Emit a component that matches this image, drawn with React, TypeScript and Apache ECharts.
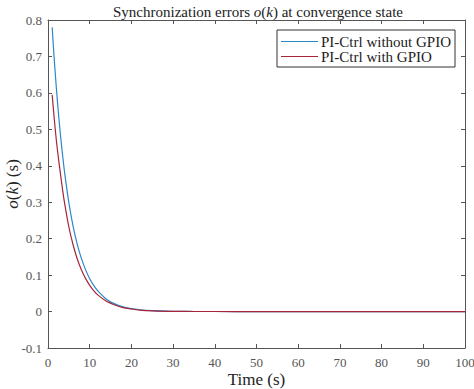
import React, { useEffect, useRef } from "react";
import * as echarts from "echarts";

const times = [1, 1.5, 2, 2.5, 3, 3.5, 4, 5, 6, 7, 8, 9, 10, 11, 12, 14, 16, 18, 20, 22, 25, 30, 35, 40, 50, 60, 70, 80, 90, 100];
const withoutGpio = [0.78, 0.692, 0.614, 0.545, 0.483, 0.429, 0.38, 0.299, 0.235, 0.185, 0.146, 0.115, 0.09, 0.071, 0.056, 0.034, 0.021, 0.013, 0.008, 0.005, 0.0025, 0.0007, 0.0002, 0.0001, 0, 0, 0, 0, 0, 0];
const withGpio = [0.595, 0.529, 0.47, 0.421, 0.377, 0.334, 0.296, 0.232, 0.184, 0.145, 0.115, 0.091, 0.072, 0.057, 0.045, 0.028, 0.018, 0.011, 0.007, 0.004, 0.002, 0.0006, 0.0002, 0.0001, 0, 0, 0, 0, 0, 0];
const seriesNames = ["PI-Ctrl without GPIO", "PI-Ctrl with GPIO"];
const seriesColors = ["#2a88c8", "#a8243a"];

const FONT = "Liberation Serif";
const AXIS_COLOR = "#555555";

export default function App() {
  const ref = useRef<HTMLDivElement>(null);
  useEffect(() => {
    if (!ref.current) return;
    const chart = echarts.init(ref.current, null, { renderer: "svg" });
    const pairs = (vals: number[]) => times.map((t, i) => [t, vals[i]]);
    const xCommon = {
      type: "value" as const,
      min: 0,
      max: 100,
      interval: 10,
      nameMoveOverlap: false,
      axisLine: { show: true, onZero: false, lineStyle: { color: AXIS_COLOR, width: 1 } },
      axisTick: { show: true, inside: true, length: 4, lineStyle: { color: AXIS_COLOR } },
      splitLine: { show: false },
    };
    const yCommon = {
      type: "value" as const,
      min: -0.1,
      max: 0.8,
      interval: 0.1,
      nameMoveOverlap: false,
      axisLine: { show: true, onZero: false, lineStyle: { color: AXIS_COLOR, width: 1 } },
      axisTick: { show: true, inside: true, length: 4, lineStyle: { color: AXIS_COLOR } },
      splitLine: { show: false },
    };
    chart.setOption({
      animation: false,
      backgroundColor: "#ffffff",
      title: {
        text: "Synchronization errors {i|o}({i|k}) at convergence state",
        left: 108,
        top: -1,
        textStyle: {
          fontFamily: FONT,
          fontSize: 15,
          fontWeight: "normal",
          color: "#222",
          rich: { i: { fontFamily: FONT, fontSize: 15, fontStyle: "italic", color: "#222" } },
        },
      },
      grid: { left: 48, right: 9, top: 20, bottom: 41, containLabel: false, outerBoundsMode: "none" },
      legend: {
        orient: "vertical",
        right: 19,
        top: 30,
        data: seriesNames,
        icon: "rect",
        itemWidth: 37,
        itemHeight: 1.2,
        itemGap: 0,
        padding: [4, 4, 3, 4],
        borderColor: "#333",
        borderWidth: 1,
        backgroundColor: "#ffffff",
        textStyle: { fontFamily: FONT, fontSize: 15, lineHeight: 14, color: "#222", padding: [0, 0, 0, -2] },
      },
      xAxis: [
        {
          ...xCommon,
          position: "bottom",
          name: "Time (s)",
          nameLocation: "middle",
          nameGap: 23,
          nameTextStyle: { fontFamily: FONT, fontSize: 17, color: "#222" },
          axisLabel: { fontFamily: FONT, fontSize: 13, color: "#555", margin: 8 },
        },
        { ...xCommon, position: "top", axisLabel: { show: false } },
      ],
      yAxis: [
        {
          ...yCommon,
          position: "left",
          name: "{i|o}({i|k}) (s)",
          nameLocation: "middle",
          nameRotate: 90,
          nameGap: 27,
          nameTextStyle: {
            fontFamily: FONT,
            fontSize: 17,
            color: "#222",
            rich: { i: { fontFamily: FONT, fontSize: 17, fontStyle: "italic", color: "#222" } },
          },
          axisLabel: { fontFamily: FONT, fontSize: 13, color: "#555", margin: 6 },
        },
        { ...yCommon, position: "right", axisLabel: { show: false } },
      ],
      series: [
        {
          name: seriesNames[0],
          type: "line",
          data: pairs(withoutGpio),
          showSymbol: false,
          smooth: 0.3,
          lineStyle: { color: seriesColors[0], width: 1.2 },
          itemStyle: { color: seriesColors[0] },
        },
        {
          name: seriesNames[1],
          type: "line",
          data: pairs(withGpio),
          showSymbol: false,
          smooth: 0.3,
          lineStyle: { color: seriesColors[1], width: 1.2 },
          itemStyle: { color: seriesColors[1] },
        },
      ],
    });
    return () => chart.dispose();
  }, []);
  return <div ref={ref} style={{ position: "fixed", left: 0, top: 0, width: 474, height: 389 }} />;
}
